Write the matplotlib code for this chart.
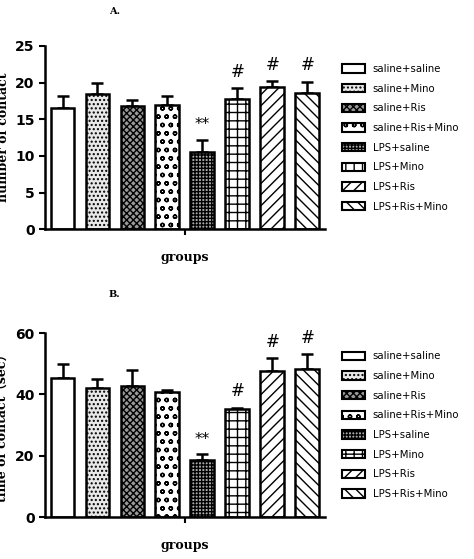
import matplotlib
matplotlib.use("Agg")
import matplotlib.pyplot as plt
from matplotlib.patches import Patch

groups = ["saline+saline", "saline+Mino", "saline+Ris", "saline+Ris+Mino",
          "LPS+saline", "LPS+Mino", "LPS+Ris", "LPS+Ris+Mino"]
contact_n = [16.5, 18.5, 16.8, 16.9, 10.5, 17.8, 19.4, 18.6]
contact_n_err = [1.6, 1.4, 0.8, 1.2, 1.7, 1.4, 0.8, 1.5]
contact_t = [45.3, 42.0, 42.7, 40.8, 18.7, 35.2, 47.8, 48.4]
contact_t_err = [4.7, 3.0, 5.3, 0.5, 1.8, 0.5, 4.0, 4.8]
marks_a = ["", "", "", "", "**", "#", "#", "#"]
marks_b = ["", "", "", "", "**", "#", "#", "#"]

hatches = [None, "....", "xxxxx", "oo", "+++++", "++", "///", "\\\\\\"]
faces = ["white", "#e8e8e8", "#999999", "white", "#aaaaaa", "white", "white", "white"]

plt.rcParams['hatch.linewidth'] = 1.0
fig = plt.figure(figsize=(4.74, 5.59), dpi=100)

def panel(rect, vals, errs, marks, ylim, ticks, ylabel, letter, ly):
    ax = fig.add_axes(rect)
    for i, (v, e) in enumerate(zip(vals, errs)):
        ax.bar(i, v, width=0.68, color=faces[i], edgecolor="black", linewidth=1.8,
               hatch=hatches[i], zorder=2)
        ax.errorbar(i, v, yerr=[[0], [e]], color="black", capsize=4, capthick=1.8,
                    elinewidth=1.8, zorder=1)
        if marks[i]:
            ax.text(i, v + e + ylim * 0.04, marks[i], ha="center", va="bottom",
                    fontsize=12 if marks[i] == "#" else 11, family="DejaVu Sans")
    ax.set_xlim(-0.5, 7.5)
    ax.set_ylim(0, ylim)
    ax.set_yticks(ticks)
    ax.set_xticks([3.5])
    ax.set_xticklabels([""])
    for s in ["top", "right"]:
        ax.spines[s].set_visible(False)
    for s in ["left", "bottom"]:
        ax.spines[s].set_linewidth(1.8)
    ax.tick_params(width=1.5, length=4, labelsize=10)
    for lbl in ax.get_yticklabels():
        lbl.set_fontweight("bold")
    ax.set_ylabel(ylabel, family=["DejaVu Serif", "Noto Sans CJK SC"], fontweight="bold", fontsize=9)
    ax.set_xlabel("groups", family="DejaVu Serif", fontweight="bold", fontsize=9, labelpad=8)
    fig.text(0.23, ly, letter, family="DejaVu Serif", fontweight="bold", fontsize=7)
    handles = [Patch(facecolor=faces[i], edgecolor="black", hatch=hatches[i], linewidth=1.5)
               for i in range(len(groups))]
    ax.legend(handles, groups, loc="upper left", bbox_to_anchor=(1.03, 0.95), frameon=False,
              fontsize=7.3, handlelength=2.2, handleheight=0.9, labelspacing=0.95,
              handletextpad=0.8)
    return ax

panel([0.095, 0.590, 0.59, 0.328], contact_n, contact_n_err, marks_a, 25,
      [0, 5, 10, 15, 20, 25], "number of contact", "A.", 0.975)
panel([0.095, 0.075, 0.59, 0.329], contact_t, contact_t_err, marks_b, 60,
      [0, 20, 40, 60], "time of contact（sec）", "B.", 0.468)

fig.savefig("out.png", dpi=100)
